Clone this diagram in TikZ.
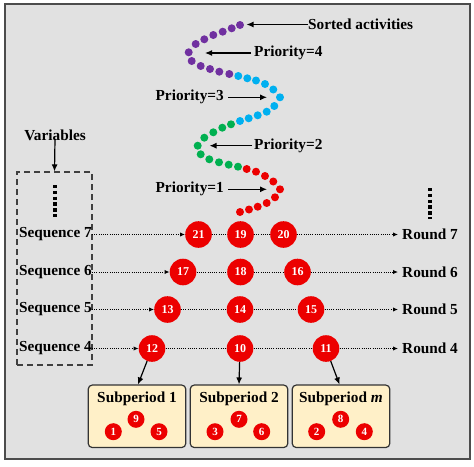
\documentclass[tikz,border=0pt]{standalone}
\usepackage{fontspec}
\setmainfont{Liberation Serif}
\usetikzlibrary{arrows.meta}
\definecolor{cpurple}{RGB}{112,48,160}
\definecolor{cblue}{RGB}{0,176,240}
\definecolor{cgreen}{RGB}{0,176,80}
\definecolor{cred}{RGB}{236,0,0}
\definecolor{cbg}{RGB}{225,225,225}
\definecolor{cbox}{RGB}{255,240,200}
\begin{document}
\begin{tikzpicture}[x=1pt,y=-1pt,
  lbl/.style={font=\fontsize{15.3}{15.3}\selectfont\bfseries, inner sep=0pt},
  ball/.style={circle, fill=cred, minimum size=26.6pt, inner sep=0pt, text=white, font=\fontsize{12}{12}\selectfont\bfseries},
  sball/.style={circle, fill=cred, minimum size=17pt, inner sep=0pt, text=white, font=\fontsize{11}{11}\selectfont\bfseries},
  arr/.style={-{Latex[length=7pt,width=6pt]}, line width=1.2pt},
  dotln/.style={line width=1pt, dash pattern=on 1pt off 1.2pt},
  dotarr/.style={dotln, -{Latex[length=5pt,width=4.5pt]}},
  spbox/.style={draw=black!80, line width=1.2pt, rounded corners=4pt, fill=cbox, minimum width=97.5pt, minimum height=62.5pt},
  vdots/.style={line width=3.5pt, dash pattern=on 3.3pt off 2.5pt}
]
\useasboundingbox (0,0) rectangle (474,466);
\fill[white] (0,0) rectangle (474,466);
\draw[draw=black!70, line width=2pt, fill=cbg] (5,4) rectangle (470,459);

% sorted activity chain
\foreach \x/\y in {240/25,231.7/28.3,222.7/31.7,213.3/35,204.3/39.3,195.7/44,188.7/52.3,191.7/61,200.7/66,210/69,219.3/71.7,229.3/74}
  \fill[cpurple] (\x,\y) circle (4);
\foreach \x/\y in {238.3/76,247.3/78.3,256/80.5,265/84,273.3/89.5,280/97.3,274.3/106,266.7/111.7,257.7/115.3,248.7/118.3,240/121}
  \fill[cblue] (\x,\y) circle (4);
\foreach \x/\y in {231/124.3,222.3/127.7,213.3/132.3,204.3/137.7,197.7/145.7,200.7/154.3,209.3/159.3,219/162.3,228.7/164.7,238/166.7}
  \fill[cgreen] (\x,\y) circle (4);
\foreach \x/\y in {246.7/169,256/171.7,265/176,273.3/181.5,280/189.3,275/197.3,266.7/203,257.7/206.7,249/209.5,240/212}
  \fill[cred] (\x,\y) circle (4);

% labels on chain
\node[lbl, anchor=west] (sorted) at (308,24.5) {Sorted activities};
\coordinate (sortedtip) at (246.5,24.5);
\draw[arr] (sorted.west) -- (sortedtip);
\node[lbl, anchor=west] (p4) at (254,53) {Priority=4};
\coordinate (p4tip) at (205,53);
\draw[arr] ([xshift=-3pt]p4.west) -- (p4tip);
\node[lbl, anchor=east] (p3) at (224,97.3) {Priority=3};
\coordinate (p3tip) at (267,97.3);
\draw[arr] ([xshift=4pt]p3.east) -- (p3tip);
\node[lbl, anchor=west] (p2) at (254,145.7) {Priority=2};
\coordinate (p2tip) at (209.5,145.7);
\draw[arr] ([xshift=-2pt]p2.west) -- (p2tip);
\node[lbl, anchor=east] (p1) at (224,189.3) {Priority=1};
\coordinate (p1tip) at (267,189.3);
\draw[arr] ([xshift=4pt]p1.east) -- (p1tip);

% variables box
\node[lbl] (vars) at (55,135.5) {Variables};
\node[draw=black!75, line width=1.2pt, dash pattern=on 6pt off 4pt, minimum width=75pt, minimum height=193pt, inner sep=0pt] (varbox) at (54.5,268.5) {};
\draw[arr] ([yshift=2pt]vars.south) -- (varbox.north);
\coordinate (vd1) at (55,185);
\coordinate (vd2) at (55,219);
\draw[vdots] (vd1) -- (vd2);
\coordinate (rd1) at (430,188);
\coordinate (rd2) at (430,219);
\draw[vdots] (rd1) -- (rd2);

% sequence labels
\node[lbl, anchor=east] (s7) at (92,234.5) {Sequence 7};
\node[lbl, anchor=east] (s6) at (92,272) {Sequence 6};
\node[lbl, anchor=east] (s5) at (92,309.5) {Sequence 5};
\node[lbl, anchor=east] (s4) at (92,348.5) {Sequence 4};

% round labels
\node[lbl, anchor=west] (r7) at (402,234.5) {Round 7};
\node[lbl, anchor=west] (r6) at (402,272) {Round 6};
\node[lbl, anchor=west] (r5) at (402,309.5) {Round 5};
\node[lbl, anchor=west] (r4) at (402,348.5) {Round 4};

% balls
\node[ball] (b21) at (198.5,234.5) {21};
\node[ball] (b19) at (240.5,234.5) {19};
\node[ball] (b20) at (283.5,234.5) {20};
\node[ball] (b17) at (183,272) {17};
\node[ball] (b18) at (240.5,272) {18};
\node[ball] (b16) at (297.5,272) {16};
\node[ball] (b13) at (167.5,309.5) {13};
\node[ball] (b14) at (240,309.5) {14};
\node[ball] (b15) at (311,309.5) {15};
\node[ball] (b12) at (152,348.5) {12};
\node[ball] (b10) at (240,348.5) {10};
\node[ball] (b11) at (326,348.5) {11};

% row connectors
\draw[dotarr] (s7.east) -- (b21.west);
\draw[dotln] (b21.east) -- (b19.west);
\draw[dotln] (b19.east) -- (b20.west);
\draw[dotarr] (b20.east) -- ([xshift=-4pt]r7.west);
\draw[dotarr] (s6.east) -- (b17.west);
\draw[dotln] (b17.east) -- (b18.west);
\draw[dotln] (b18.east) -- (b16.west);
\draw[dotarr] (b16.east) -- ([xshift=-4pt]r6.west);
\draw[dotarr] (s5.east) -- (b13.west);
\draw[dotln] (b13.east) -- (b14.west);
\draw[dotln] (b14.east) -- (b15.west);
\draw[dotarr] (b15.east) -- ([xshift=-4pt]r5.west);
\draw[dotarr] (s4.east) -- (b12.west);
\draw[dotln] (b12.east) -- (b10.west);
\draw[dotln] (b10.east) -- (b11.west);
\draw[dotarr] (b11.east) -- ([xshift=-4pt]r4.west);

% subperiod boxes
\node[spbox] (sp1) at (137,416.3) {};
\node[spbox] (sp2) at (239,416.3) {};
\node[spbox] (sp3) at (341,416.3) {};
\node[lbl] (t1) at (137,398.5) {Subperiod 1};
\node[lbl] (t2) at (239,398.5) {Subperiod 2};
\node[lbl] (t3) at (341,398.5) {Subperiod \textit{m}};
\node[sball] (c1) at (113.3,431.7) {1};
\node[sball] (c9) at (136,419.3) {9};
\node[sball] (c5) at (159,431.7) {5};
\node[sball] (c3) at (215,431.7) {3};
\node[sball] (c7) at (239,419.3) {7};
\node[sball] (c6) at (261.7,431.7) {6};
\node[sball] (c2) at (316.7,431.7) {2};
\node[sball] (c8) at (340.7,419.3) {8};
\node[sball] (c4) at (364.3,431.7) {4};

\draw[arr] (b12) -- ([xshift=1pt]sp1.north);
\draw[arr] (b10) -- (sp2.north);
\draw[arr] (b11) -- ([xshift=-1.5pt]sp3.north);
\end{tikzpicture}
\end{document}
